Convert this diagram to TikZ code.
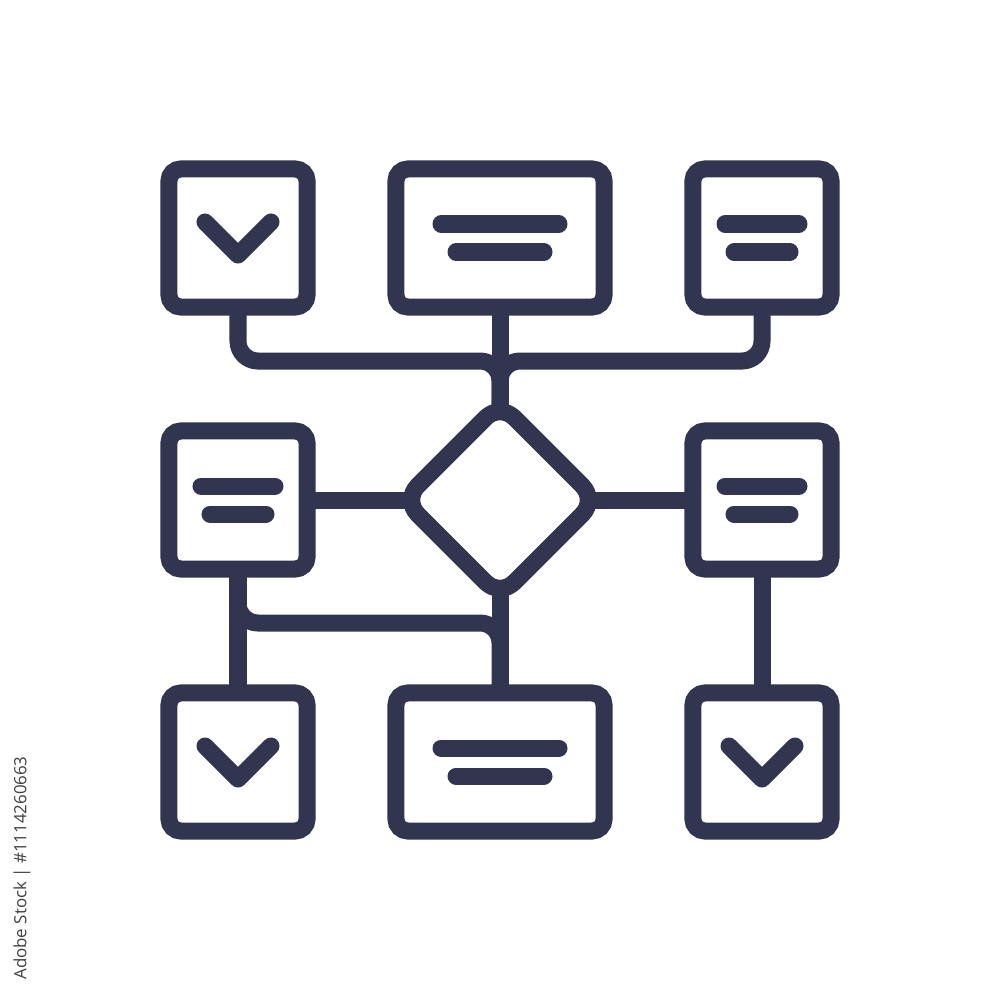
\documentclass[tikz,border=0pt]{standalone}
\usepackage{fontspec}
\newfontfamily\stockfont{Open Sans}
\usepackage{tikz}
\usetikzlibrary{calc,positioning,shapes,backgrounds}
\definecolor{navy}{HTML}{32354F}
\tikzset{
	box/.style={draw=navy,fill=white,line width=1.7mm,rounded corners=1.2mm,minimum width=1.38cm,minimum height=1.38cm,inner sep=0pt},
	widebox/.style={box,minimum width=2.08cm},
	decision/.style={draw=navy,fill=white,line width=1.7mm,shape=diamond,aspect=1,rounded corners=2mm,minimum width=2cm,minimum height=2cm,inner sep=0pt},
	link/.style={draw=navy,line width=1.7mm,rounded corners=2mm},
	bar/.style={draw=navy,line width=1.7mm,line cap=round,line join=round}
}

\begin{document}
\begin{tikzpicture}[x=0.01cm,y=-0.01cm]
		\useasboundingbox (0,0) rectangle (1000,1000);
		\node(dia) [decision] at (500,500) {};
		\node(tl) [box] at (238,238) {};
		\node(tm) [widebox] at (500,238) {};
		\node(tr) [box] at (762,238) {};
		\node(ml) [box] at (238,500) {};
		\node(mr) [box] at (762,500) {};
		\node(bl) [box] at (238,762) {};
		\node(bm) [widebox] at (500,762) {};
		\node(br) [box] at (762,762) {};
		\coordinate (topjoin) at (500,361);
		\coordinate (botjoin) at (500,623);
		\begin{scope}[on background layer]
			\fill[white] (0,0) rectangle (1000,1000);
			\draw[link] (tm.center) -- (dia.center) -- (bm.center);
			\draw[link] (ml.center) -- (mr.center);
			\draw[link] (tl.center) |- (topjoin) -- (dia.center);
			\draw[link] (tr.center) |- (topjoin) -- (dia.center);
			\draw[link] (ml.center) -- (bl.center);
			\draw[link] (ml.center) |- (botjoin) -- (bm.center);
			\draw[link] (mr.center) -- (br.center);
		\end{scope}
		\foreach \b in {tl,bl,br}
			\draw[bar] ($(\b)+(-33,-16)$) -- ($(\b)+(0,17)$) -- ($(\b)+(33,-16)$);
		\foreach \b in {tm,bm} {
			\draw[bar] ($(\b)+(-59,-14)$) -- ($(\b)+(59,-14)$);
			\draw[bar] ($(\b)+(-44,14)$) -- ($(\b)+(44,14)$);
		}
		\foreach \b in {tr,ml,mr} {
			\draw[bar] ($(\b)+(-37,-14)$) -- ($(\b)+(37,-14)$);
			\draw[bar] ($(\b)+(-28,14)$) -- ($(\b)+(28,14)$);
		}
		\node(stockid) [rotate=90,text=black!75,font=\stockfont\fontsize{4.8}{5}\selectfont] at (22,868) {Adobe Stock | \#1114260663};
\end{tikzpicture}
\end{document}
